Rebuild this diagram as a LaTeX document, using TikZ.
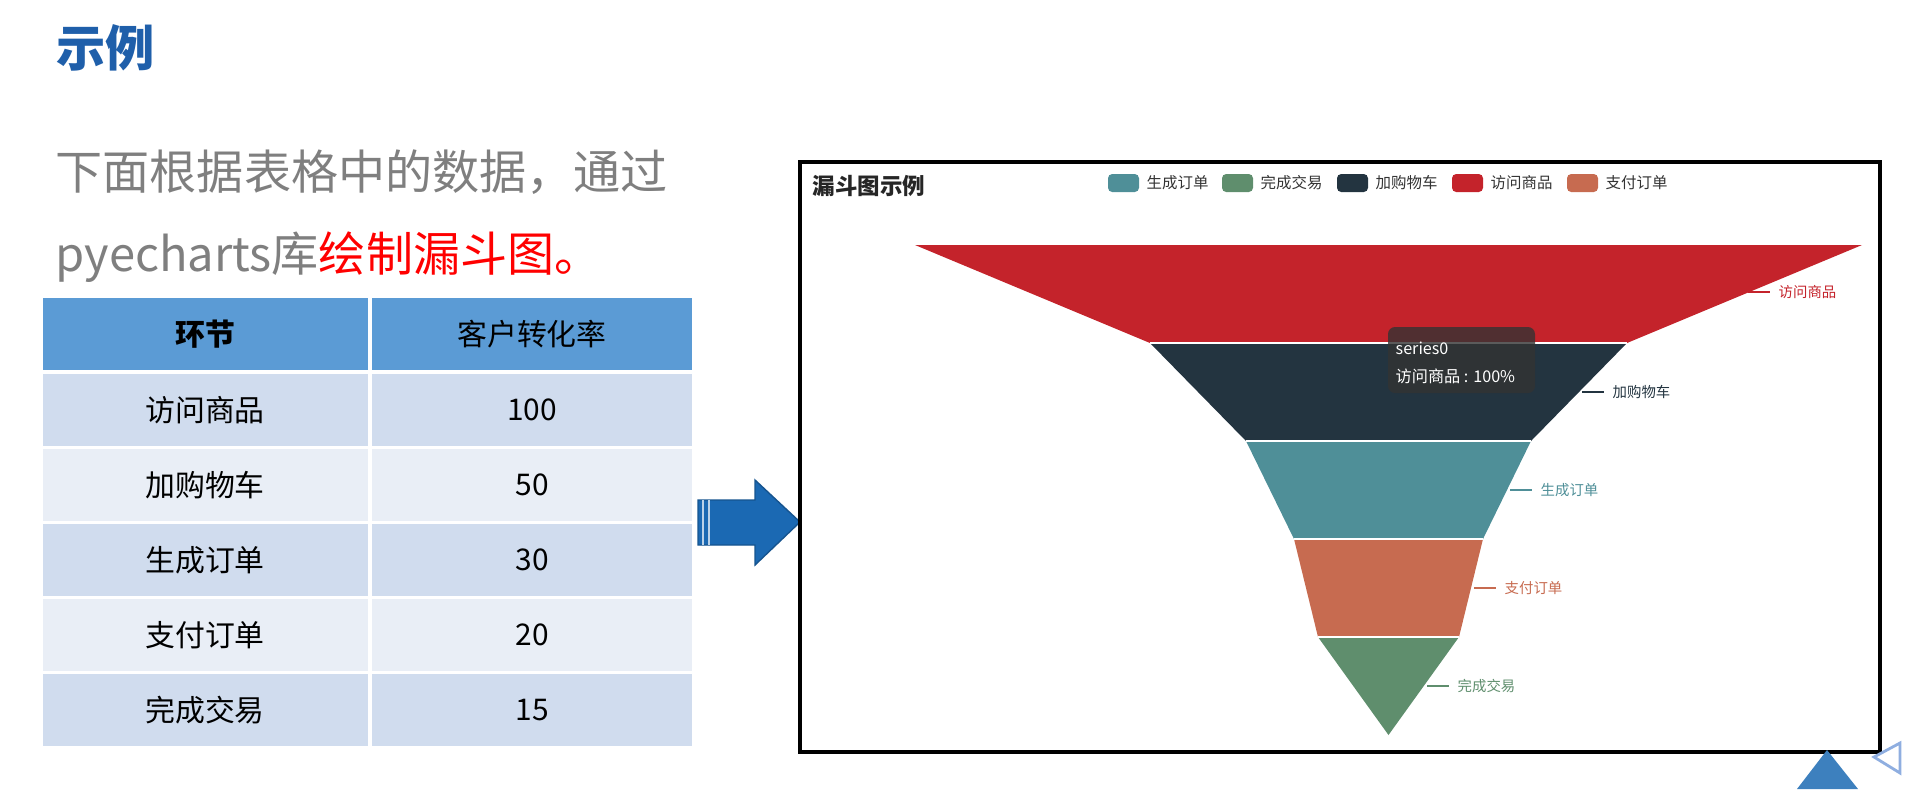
\documentclass[tikz,border=0pt]{standalone}
\usepackage{fontspec}
\setmainfont{Noto Sans CJK SC}
\newfontfamily\cjk{Noto Sans CJK SC}
\definecolor{ttlblue}{HTML}{1F5FAA}
\definecolor{hdr}{HTML}{5B9BD5}
\definecolor{rowA}{HTML}{D0DCEE}
\definecolor{rowB}{HTML}{E9EEF6}
\definecolor{arr}{HTML}{1B69B3}
\definecolor{cTeal}{HTML}{4F8F98}
\definecolor{cGreen}{HTML}{5F8E6D}
\definecolor{cNavy}{HTML}{233440}
\definecolor{cRed}{HTML}{C4232B}
\definecolor{cOrange}{HTML}{C76B50}
\definecolor{gtxt}{HTML}{7F7F7F}
\definecolor{tip}{HTML}{333333}
\tikzset{
 cell/.style={minimum height=72\pxu,inner sep=0,font=\fontsize{8.5}{10}\selectfont},
 lg/.style={anchor=west,font=\fontsize{4.4}{5}\selectfont,text=black!80,inner sep=0},
 lbl/.style={anchor=west,font=\fontsize{4.1}{5}\selectfont,inner sep=0},
}
\newlength\pxu \setlength\pxu{0.1mm}
\begin{document}
\begin{tikzpicture}[x=0.1mm,y=-0.1mm]
\useasboundingbox (0,0) rectangle (1914,789);
\node[anchor=west,inner sep=0,text=ttlblue,font=\fontsize{14}{16}\selectfont\bfseries] (t) at (56,48) {示例};
\node[anchor=west,inner sep=0,text=gtxt,font=\fontsize{13.4}{16}\selectfont] (l1) at (55,172) {下面根据表格中的数据，通过};
\node[anchor=west,inner sep=0,text=gtxt,font=\fontsize{13.4}{16}\selectfont] (l2) at (55,257) {pyecharts库\textcolor{red}{绘制漏斗图。}};
% table
\fill[hdr] (43,298) rectangle (692,370);
\fill[white] (368,298) rectangle (372,748);
\foreach \i/\c in {0/rowA,1/rowB,2/rowA,3/rowB,4/rowA}{
  \fill[\c] (43,{374+75*\i}) rectangle (368,{446+75*\i});
  \fill[\c] (372,{374+75*\i}) rectangle (692,{446+75*\i});
}
\node[font=\fontsize{8.5}{10}\selectfont\bfseries] (h1) at (205,334) {环节};
\node[font=\fontsize{8.5}{10}\selectfont] (h2) at (532,334) {客户转化率};
\foreach \i/\a/\b in {0/访问商品/100,1/加购物车/50,2/生成订单/30,3/支付订单/20,4/完成交易/15}{
  \node[cell] (a\i) at (205,{410+75*\i}) {\a};
  \node[cell] (b\i) at (532,{410+75*\i}) {\b};
}
% arrow
\fill[arr,draw=arr!80!black,line width=0.4pt] (698,500) -- (755,500) -- (755,480) -- (800,522) -- (755,565) -- (755,545) -- (698,545) -- cycle;
\draw[white!70!arr,line width=0.5pt] (703,500) -- (703,545) (709,500) -- (709,545);
% chart box
\draw[line width=1.2pt] (800,162) rectangle (1880,752);
\node[anchor=west,inner sep=0,font=\fontsize{6.4}{8}\selectfont\bfseries,text=black!85] (ct) at (812,186) {漏斗图示例};
\foreach \x/\c/\t in {1108/cTeal/生成订单,1222/cGreen/完成交易,1337/cNavy/加购物车,1452/cRed/访问商品,1567/cOrange/支付订单}{
  \fill[\c,rounded corners=1.2pt] (\x,174) rectangle ++(31,18);
  \node[lg] at (\x+38,183) {\t};
}
% funnel
\fill[cRed] (915,245) -- (1862,245) -- (1627,343) -- (1150,343) -- cycle;
\fill[cNavy] (1150,343) -- (1627,343) -- (1531,441) -- (1246,441) -- cycle;
\fill[cTeal] (1246,441) -- (1531,441) -- (1483,539) -- (1294,539) -- cycle;
\fill[cOrange] (1294,539) -- (1483,539) -- (1459,637) -- (1318,637) -- cycle;
\fill[cGreen] (1318,637) -- (1459,637) -- (1388.5,735) -- cycle;
\draw[white,line width=0.6pt] (1150,343) -- (1627,343) (1246,441) -- (1531,441) (1294,539) -- (1483,539) (1318,637) -- (1459,637);
\foreach \xa/\y/\c/\t in {1748/292/cRed/访问商品,1582/392/cNavy/加购物车,1510/490/cTeal/生成订单,1474/588/cOrange/支付订单,1427/686/cGreen/完成交易}{
  \draw[\c,line width=0.5pt] (\xa,\y) -- ++(22,0) coordinate (e);
  \node[lbl,text=\c] at ([xshift=0.8mm]e) {\t};
}
% tooltip
\fill[tip,opacity=0.8,rounded corners=2pt] (1388,327) rectangle (1535,393);
\node[anchor=west,inner sep=0,text=white,font=\fontsize{4.6}{5}\selectfont] (s0) at (1395,348) {series0};
\node[anchor=west,inner sep=0,text=white,font=\fontsize{4.6}{5}\selectfont] (s1) at (1395,376) {访问商品 : 100\%};
% bottom right
\fill[arr!85!white] (1797,789) -- (1827,750) -- (1858,789) -- cycle;
\draw[cyan!50!blue!45,line width=0.8pt] (1874,757) -- (1900,743) -- (1900,773) -- cycle;
\end{tikzpicture}
\end{document}
